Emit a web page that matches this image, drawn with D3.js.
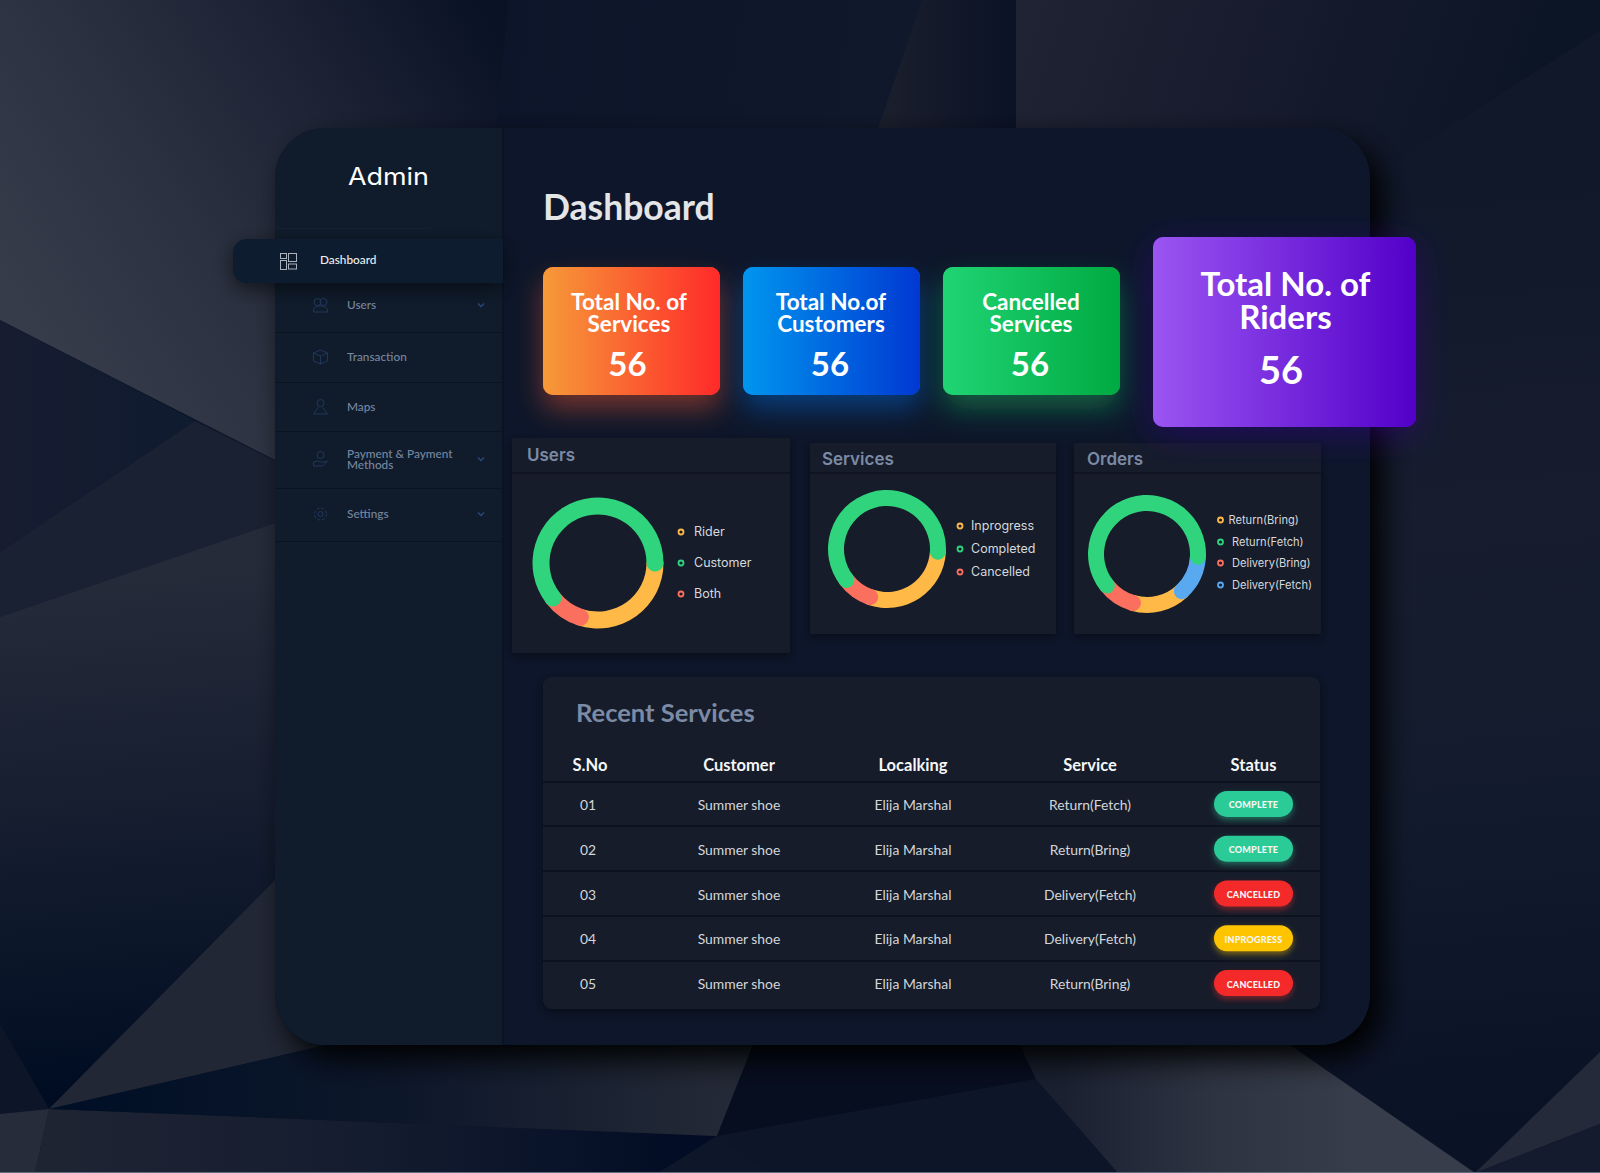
<!DOCTYPE html>
<html>
<head>
<meta charset="utf-8">
<script src="https://cdn.jsdelivr.net/npm/d3@7"></script>
<style>
  html, body { margin: 0; padding: 0; background: #0b1426; }
  svg { display: block; }
  .prox { font-family: Lato, "Open Sans", sans-serif; }
  .pop { font-family: Inter, "Noto Sans", sans-serif; }
</style>
</head>
<body>
<div id="chart"></div>
<script>
// Kartochki sverhu
const cardTitles = [["Total No. of", "Services"], ["Total No.of", "Customers"], ["Cancelled", "Services"], ["Total No. of", "Riders"]];
const cardValues = [56, 56, 56, 56];
const cardColors = [["#f69a38", "#ff2a2a"], ["#0096ee", "#0138d2"], ["#20d474", "#00aa42"], ["#9b55f2", "#5200c8"]];

// Donuts: shares of the ring in percent, in legend order
const usersLabels = ["Rider", "Customer", "Both"];
const usersValues = [30, 60.5, 9.5];
const servicesLabels = ["Inprogress", "Completed", "Cancelled"];
const servicesValues = [29.5, 61.2, 9.3];
const ordersLabels = ["Return(Bring)", "Return(Fetch)", "Delivery(Bring)", "Delivery(Fetch)"];
const ordersValues = [16.4, 61.4, 10, 12.2];
const ringColors = ["#ffb947", "#2fd47c", "#fb6f5f", "#58a9f0"];

// Table
const tableHeaders = ["S.No", "Customer", "Localking", "Service", "Status"];
const rowNumbers = ["01", "02", "03", "04", "05"];
const rowCustomers = ["Summer shoe", "Summer shoe", "Summer shoe", "Summer shoe", "Summer shoe"];
const rowLocalkings = ["Elija Marshal", "Elija Marshal", "Elija Marshal", "Elija Marshal", "Elija Marshal"];
const rowServices = ["Return(Fetch)", "Return(Bring)", "Delivery(Fetch)", "Delivery(Fetch)", "Return(Bring)"];
const rowStatuses = ["COMPLETE", "COMPLETE", "CANCELLED", "INPROGRESS", "CANCELLED"];
const statusColors = { COMPLETE: "#2bcb96", CANCELLED: "#f42c2c", INPROGRESS: "#ffc400" };

// Sidebar
const menuItems = [["Users"], ["Transaction"], ["Maps"], ["Payment & Payment", "Methods"], ["Settings"]];
const menuChevrons = [true, false, false, true, true];

const W = 1600, H = 1173;
const svg = d3.select("#chart").append("svg").attr("width", W).attr("height", H);
const defs = svg.append("defs");

function gradient(id, x1, y1, x2, y2, stops) {
    const g = defs.append("linearGradient").attr("id", id)
        .attr("gradientUnits", "userSpaceOnUse")
        .attr("x1", x1).attr("y1", y1).attr("x2", x2).attr("y2", y2);
    stops.forEach((c, i) => g.append("stop").attr("offset", i / (stops.length - 1)).attr("stop-color", c));
    return `url(#${id})`;
}
function shadow(id, color, dx, dy, std, op) {
    const f = defs.append("filter").attr("id", id)
        .attr("x", "-40%").attr("y", "-40%").attr("width", "180%").attr("height", "190%");
    f.append("feDropShadow").attr("dx", dx).attr("dy", dy).attr("stdDeviation", std)
        .attr("flood-color", color).attr("flood-opacity", op);
    return `url(#${id})`;
}

// Фон из многоугольников
const backdrop = [
    { pts: [[0,0],[1600,0],[1600,1173],[0,1173]], fill: "#0d1528" },
    { pts: [[0,0],[509,0],[490,190],[340,190],[340,493],[0,320]],
      fill: gradient("b1", 40, 340, 505, 50, ["#363c4a", "#2b3140", "#1d2334", "#0a1226"]) },
    { pts: [[509,0],[922,0],[857,190],[490,190]], fill: gradient("b2", 509, 0, 922, 60, ["#0c1529", "#10192c"]) },
    { pts: [[922,0],[1016,0],[1016,190],[857,190]], fill: gradient("b3", 880, 0, 1016, 0, ["#1b1f2d", "#0a1226"]) },
    { pts: [[1016,0],[1600,0],[1600,31],[1370,178],[1300,190],[1016,190]],
      fill: gradient("b4", 1030, 0, 1500, 160, ["#1f2333", "#161b2d", "#0c1526"]) },
    { pts: [[1370,178],[1600,31],[1600,1060],[1475,1172],[1290,1045],[1300,1000],[1300,178]],
      fill: gradient("b5", 1400, 200, 1480, 1120, ["#10182a", "#171d2f", "#121b2d", "#0a1226"]) },
    { pts: [[0,320],[195,421],[0,552]], fill: gradient("b6", 0, 420, 195, 420, ["#171c31", "#0f1b2f"]) },
    { pts: [[195,421],[340,493],[340,500],[275,523],[0,617],[0,552]], fill: "#1a2132" },
    { pts: [[340,500],[275,523],[0,617],[0,1024],[49,1109],[340,814]], fill: gradient("b7", 0, 580, 40, 1100, ["#252b39", "#1a2132", "#0e182b", "#000c22"]) },
    { pts: [[49,1109],[340,814],[340,1045],[326,1045]], fill: "#212735" },
    { pts: [[0,1024],[49,1109],[0,1114]], fill: "#0d1628" },
    { pts: [[0,1114],[49,1109],[35,1173],[0,1173]], fill: "#262c39" },
    { pts: [[49,1109],[717,1136],[658,1173],[35,1173]], fill: gradient("b8", 60, 0, 680, 0, ["#1f2433", "#141c2f", "#020d25"]) },
    { pts: [[49,1109],[326,1045],[753,1045],[717,1136]], fill: gradient("b9", 70, 0, 720, 0, ["#000f26", "#0d172a", "#232936"]) },
    { pts: [[753,1045],[717,1136],[1036,1079],[1020,1045]], fill: "#070e20" },
    { pts: [[717,1136],[1036,1079],[1118,1173],[772,1173]], fill: "#0d1628" },
    { pts: [[717,1136],[658,1173],[772,1173]], fill: "#0e172a" },
    { pts: [[1020,1045],[1036,1079],[1118,1173],[1475,1173],[1290,1045]],
      fill: gradient("b10", 1060, 0, 1360, 0, ["#1a2030", "#2d3341", "#373d4b"]) },
    { pts: [[1475,1173],[1600,1052],[1600,1124]], fill: "#242a39" },
    { pts: [[1475,1173],[1600,1124],[1600,1173]], fill: "#141b2e" }
];
svg.append("g").selectAll("polygon").data(backdrop).enter().append("polygon")
    .attr("points", d => d.pts.join(" "))
    .attr("fill", d => d.fill);
svg.append("rect").attr("y", 1172).attr("width", W).attr("height", 1).attr("fill", "#5d6c82");

// Панель
const panel = { x: 275, y: 128, w: 1095, h: 917, r: 50, split: 503 };
svg.append("rect").attr("x", panel.x).attr("y", panel.y).attr("width", panel.w).attr("height", panel.h)
    .attr("rx", panel.r).attr("fill", "#0c192a")
    .attr("filter", shadow("panelShadow", "#000", 12, 14, 15, 1));
defs.append("clipPath").attr("id", "panelClip").append("rect")
    .attr("x", panel.x).attr("y", panel.y).attr("width", panel.w).attr("height", panel.h).attr("rx", panel.r);
const inner = svg.append("g").attr("clip-path", "url(#panelClip)");
inner.append("rect").attr("x", panel.x).attr("y", panel.y).attr("width", panel.split - panel.x).attr("height", panel.h)
    .attr("fill", "#101c2c");
inner.append("rect").attr("x", panel.split - 1).attr("y", panel.y).attr("width", 2).attr("height", panel.h)
    .attr("fill", "#0a1421");

// Sidebar
svg.append("text").attr("x", 348).attr("y", 185).attr("textLength", 81).attr("lengthAdjust", "spacingAndGlyphs")
    .attr("class", "pop").attr("font-size", 24).attr("font-weight", 400).attr("fill", "#fff").text("Admin");

const menuSeps = [332, 382, 431, 488, 541];
inner.append("line").attr("x1", 275).attr("x2", 430).attr("y1", 228.5).attr("y2", 228.5).attr("stroke", "#16222f");
inner.selectAll(".sep").data(menuSeps).enter().append("line").attr("class", "sep")
    .attr("x1", panel.x).attr("x2", panel.split - 1).attr("y1", d => d + 0.5).attr("y2", d => d + 0.5)
    .attr("stroke", "#0a1320");

svg.append("path")
    .attr("d", "M503,239 H247 a14,14 0 0 0 -14,14 V269 a14,14 0 0 0 14,14 H503 Z")
    .attr("fill", "#0d1a2d")
    .attr("filter", shadow("activeShadow", "#000", 0, 6, 10, 0.55));
const dashIcon = svg.append("g").attr("fill", "none").attr("stroke", "#aab1bb").attr("stroke-width", 1);
[[280.5,253.5,6,5],[280.5,260.5,6,9],[288.5,253.5,8,8],[288.5,264,8,5]].forEach(r => {
    dashIcon.append("rect").attr("x", r[0]).attr("y", r[1]).attr("width", r[2]).attr("height", r[3]);
});
svg.append("text").attr("x", 320).attr("y", 264).attr("class", "prox").attr("font-size", 11.8).attr("font-weight", 500)
    .attr("fill", "#eef0f3").text("Dashboard");

const menuCenters = [305, 357, 407, 459, 514];
const iconStroke = "#20375c";
const menu = svg.append("g").selectAll("g").data(menuItems).enter().append("g")
    .attr("transform", (d, i) => `translate(0,${menuCenters[i]})`);
menu.each(function(lines, i) {
    const g = d3.select(this);
    g.append("text").attr("class", "prox").attr("font-size", 11.8).attr("font-weight", 500).attr("fill", "#7787a0")
        .selectAll("tspan").data(lines).enter().append("tspan")
        .attr("x", 347).attr("y", (l, j) => 4 + (j - (lines.length - 1) / 2) * 11).text(l => l);
    if (menuChevrons[i]) g.append("path").attr("d", "M478,-1.5 L481,1.5 L484,-1.5")
        .attr("fill", "none").attr("stroke", "#2a4878").attr("stroke-width", 1.4);
    const ic = g.append("g").attr("transform", "translate(320.5,0)").attr("fill", "none")
        .attr("stroke", iconStroke).attr("stroke-width", 1);
    if (i === 0) {
        ic.append("circle").attr("cx", -3).attr("cy", -3).attr("r", 3.5);
        ic.append("circle").attr("cx", 3).attr("cy", -3).attr("r", 3.5);
        ic.append("path").attr("d", "M-7,6 q0,-5 7,-5 q7,0 7,5 v1 h-14 z");
    } else if (i === 1) {
        ic.append("path").attr("d", "M-7,-4 L0,-7 L7,-4 V4 L0,7 L-7,4 Z M-7,-4 L0,-1 L7,-4 M0,-1 V7");
    } else if (i === 2) {
        ic.append("circle").attr("cx", 0).attr("cy", -4).attr("r", 3.5);
        ic.append("path").attr("d", "M-2,0 L-7,7 H7 L2,0");
    } else if (i === 3) {
        ic.append("circle").attr("cx", 0).attr("cy", -4).attr("r", 3.5);
        ic.append("path").attr("d", "M-7,3 q4,-2 7,0 h4 l3,-1 l-5,5 h-9 z");
    } else {
        ic.append("circle").attr("r", 2.5);
        ic.append("circle").attr("r", 6).attr("stroke-dasharray", "3 1.7");
    }
});

// Заголовок
svg.append("text").attr("x", 543).attr("y", 220).attr("class", "prox").attr("font-size", 35.5).attr("font-weight", 700)
    .attr("fill", "#e4e5e7").text("Dashboard");

// Cards
const cardBoxes = [
    { x: 543, y: 267, w: 177, h: 128, title: 22.5, num: 33, cx: 629, numCx: 627.5, lines: [310, 332], numY: 376, glow: "#ff5a30" },
    { x: 743, y: 267, w: 177, h: 128, title: 22.5, num: 33, cx: 831, numCx: 830, lines: [310, 332], numY: 376, glow: "#0a72e8" },
    { x: 943, y: 267, w: 177, h: 128, title: 22.5, num: 33, cx: 1031, numCx: 1030, lines: [310, 332], numY: 376, glow: "#14c060" },
    { x: 1153, y: 237, w: 263, h: 190, title: 33, num: 38, cx: 1285.5, numCx: 1281, lines: [296, 329], numY: 384, glow: "#5a0fc8" }
];
cardBoxes.forEach((b, i) => {
    if (i === 3) return;
    svg.append("rect").attr("x", b.x).attr("y", b.y).attr("width", b.w).attr("height", b.h).attr("rx", 10)
        .attr("fill", b.glow).attr("filter", shadow("cardGlow" + i, b.glow, 0, 14, 14, 0.42));
});

// Charts
const donutBoxes = [
    { title: "Users", x: 512, y: 438, w: 278, h: 215, head: 473, tx: 527, ty: 461, font: 17, cx: 598, cy: 563, r: 65.5, thick: 17,
      labels: usersLabels, values: usersValues, ring: [0, 2, 1], layers: [0, 2, 1], start: 90,
      legX: 694, dotX: 681, legSize: 12.5, legY: [532, 563, 594] },
    { title: "Services", x: 810, y: 443, w: 246, h: 191, head: 473, tx: 822, ty: 465, font: 17, cx: 887, cy: 549, r: 59, thick: 16,
      labels: servicesLabels, values: servicesValues, ring: [0, 2, 1], layers: [0, 2, 1], start: 93,
      legX: 971, dotX: 960, legSize: 12.5, legY: [526, 549, 572] },
    { title: "Orders", x: 1074, y: 443, w: 247, h: 191, head: 473, tx: 1087, ty: 465, font: 17, cx: 1147, cy: 554, r: 59, thick: 16,
      labels: ordersLabels, values: ordersValues, ring: [3, 0, 2, 1], layers: [0, 2, 3, 1], start: 93,
      legX: [1228.5, 1232, 1232, 1232], dotX: 1220.5, legSize: 11.1, legY: [520, 542, 563, 585] }
];
const toRad = d => d * Math.PI / 180;

function draw_donut(b, idx) {
    const g = svg.append("g");
    g.append("rect").attr("x", b.x).attr("y", b.y).attr("width", b.w).attr("height", b.h).attr("rx", 2)
        .attr("fill", "#161d2a").attr("filter", shadow("boxShadow" + idx, "#000", 0, 3, 5, 0.45));
    g.append("line").attr("x1", b.x).attr("x2", b.x + b.w).attr("y1", b.head).attr("y2", b.head)
        .attr("stroke", "#0a0f18").attr("stroke-width", 1);
    g.append("text").attr("x", b.tx).attr("y", b.ty).attr("class", "pop").attr("font-size", b.font)
        .attr("font-weight", 600).attr("fill", "#7b8aa5").text(b.title);

    const slices = b.ring.map(i => ({ key: i, value: b.values[i] }));
    const pie = d3.pie().sort(null).value(d => d.value)
        .startAngle(toRad(b.start)).endAngle(toRad(b.start) + 2 * Math.PI);
    const arcs = pie(slices);
    const mid = b.r - b.thick / 2;
    const cap = Math.asin(b.thick / 2 / mid); // угол скругления
    const arc = d3.arc().innerRadius(b.r - b.thick).outerRadius(b.r).cornerRadius(b.thick / 2);
    const color = d3.scaleOrdinal().domain(d3.range(4)).range(ringColors);
    const ordered = b.layers.map(k => arcs.find(a => a.data.key === k));
    g.append("g").attr("transform", `translate(${b.cx},${b.cy})`)
        .selectAll("path").data(ordered).enter().append("path")
        .attr("d", a => arc({ startAngle: a.startAngle - cap, endAngle: a.endAngle + cap }))
        .attr("fill", a => color(a.data.key));

    const leg = g.append("g").selectAll("g").data(b.labels).enter().append("g");
    leg.append("circle").attr("cx", b.dotX).attr("cy", (d, i) => b.legY[i]).attr("r", 2.5)
        .attr("fill", "none").attr("stroke", (d, i) => ringColors[i]).attr("stroke-width", 1.8);
    leg.append("text").attr("x", (d, i) => Array.isArray(b.legX) ? b.legX[i] : b.legX)
        .attr("y", (d, i) => b.legY[i] + 4).attr("class", "pop").attr("font-size", b.legSize)
        .attr("fill", "#d5d8dd").text(d => d);
}
donutBoxes.forEach(draw_donut);

// Purple card goes over the orders card, so the faces of all cards are drawn here
cardBoxes.forEach((b, i) => {
    const g = svg.append("g");
    if (i === 3) {
        g.append("rect").attr("x", b.x).attr("y", b.y).attr("width", b.w).attr("height", b.h).attr("rx", 10)
            .attr("fill", b.glow).attr("filter", shadow("riderShadow", "#3d0a9c", 0, 8, 18, 0.45));
    }
    g.append("rect").attr("x", b.x).attr("y", b.y).attr("width", b.w).attr("height", b.h).attr("rx", 10)
        .attr("fill", gradient("cardFill" + i, b.x, 0, b.x + b.w, 0, cardColors[i]));
    g.append("text").attr("text-anchor", "middle").attr("class", "prox")
        .attr("font-size", b.title).attr("font-weight", 700).attr("fill", "#fff")
        .selectAll("tspan").data(cardTitles[i]).enter().append("tspan")
        .attr("x", b.cx).attr("y", (t, j) => b.lines[j]).text(t => t);
    g.append("text").attr("x", b.numCx).attr("y", b.numY).attr("text-anchor", "middle")
        .attr("class", "prox").attr("font-size", b.num).attr("font-weight", 700).attr("fill", "#fff").text(cardValues[i]);
});

// Таблица
const tbl = svg.append("g");
tbl.append("rect").attr("x", 543).attr("y", 677).attr("width", 777).attr("height", 332).attr("rx", 9)
    .attr("fill", "#171e2b").attr("filter", shadow("tableShadow", "#000", 0, 3, 5, 0.5));
tbl.append("text").attr("x", 576).attr("y", 722).attr("class", "prox").attr("font-size", 25.5).attr("font-weight", 700)
    .attr("fill", "#7b8aa5").text("Recent Services");

const colX = d3.scaleOrdinal().domain(tableHeaders).range([590, 739, 913, 1090, 1253.5]);
const rowY = d3.scaleBand().domain(rowNumbers).range([782.5, 1006.5]);
tbl.selectAll(".th").data(tableHeaders).enter().append("text").attr("class", "th prox")
    .attr("x", d => colX(d)).attr("y", 770.5).attr("text-anchor", "middle")
    .attr("font-size", 16.5).attr("font-weight", 700).attr("fill", "#f5f6f7").text(d => d);
const dividers = [782, 826, 871, 916, 961];
tbl.selectAll(".rowline").data(dividers).enter().append("line").attr("class", "rowline")
    .attr("x1", 543).attr("x2", 1320).attr("y1", d => d).attr("y2", d => d)
    .attr("stroke", "#0b111b").attr("stroke-width", 1.5);

rowNumbers.forEach((no, i) => {
    const cy = rowY(no) + rowY.bandwidth() / 2;
    const cells = [[tableHeaders[0], no, -2], [tableHeaders[1], rowCustomers[i], 0], [tableHeaders[2], rowLocalkings[i], 0], [tableHeaders[3], rowServices[i], 0]];
    cells.forEach(c => {
        tbl.append("text").attr("x", colX(c[0]) + c[2]).attr("y", cy + 5).attr("text-anchor", "middle")
            .attr("class", "prox").attr("font-size", 13.9).attr("fill", "#d3d6da").text(c[1]);
    });
    const st = rowStatuses[i];
    tbl.append("rect").attr("x", 1214).attr("y", cy - 14).attr("width", 79).attr("height", 26).attr("rx", 13)
        .attr("fill", statusColors[st])
        .attr("filter", shadow("badge" + i, statusColors[st], 0, 3, 3, 0.45));
    tbl.append("text").attr("x", colX(tableHeaders[4])).attr("y", cy + 3.5).attr("text-anchor", "middle")
        .attr("class", "prox").attr("font-size", 9).attr("font-weight", 900).attr("letter-spacing", 0.2)
        .attr("fill", "#f6f6f4").text(st);
});
</script>
</body>
</html>
